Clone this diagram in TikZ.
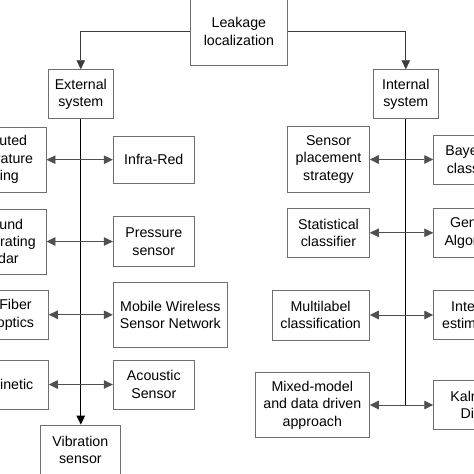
\documentclass[tikz,border=0pt]{standalone}
\usepackage{fontspec}
\setmainfont{Liberation Sans}
\usetikzlibrary{arrows.meta}
\begin{document}
\begin{tikzpicture}[x=1pt,y=-1pt,
  box/.style={draw={rgb,255:red,110;green,110;blue,110},line width=0.9pt,rectangle,inner sep=0pt,align=center,
    font=\fontsize{14.2}{17.4}\selectfont},
  tip/.style={{Triangle[length=9pt,width=8.5pt]}},
  dbl/.style={draw={rgb,255:red,80;green,80;blue,80},line width=0.9pt,{Triangle[length=9pt,width=8.5pt]}-{Triangle[length=9pt,width=8.5pt]}},
  spine/.style={draw=black,line width=1.1pt},
  down/.style={draw={rgb,255:red,60;green,60;blue,60},line width=0.9pt,-{Triangle[length=9pt,width=8.5pt]}}]
\useasboundingbox (0,0) rectangle (474,474);
\clip (0,0) rectangle (474,474);
\fill[white] (0,0) rectangle (474,474);
% top
\node[box,minimum width=97.7pt,minimum height=67pt] (leak) at (238.9,31.5) {Leakage\\localization};
\node[box,minimum width=65pt,minimum height=49pt] (ext) at (80.8,94.2) {External\\system};
\node[box,minimum width=65pt,minimum height=49pt] (int) at (405.8,94.2) {Internal\\system};
% external side
\node[box,minimum width=105.6pt,minimum height=64.7pt] (dts) at (-6.8,159.7) {Distributed\\Temperature\\Sensing};
\node[box,minimum width=81pt,minimum height=47pt] (ir) at (153.8,159.7) {Infra-Red};
\node[box,minimum width=93.2pt,minimum height=65pt] (gpr) at (-0.6,241.5) {Ground\\Penetrating\\Radar};
\node[box,minimum width=81pt,minimum height=49.3pt] (pres) at (153.8,241.5) {Pressure\\sensor};
\node[box,minimum width=65.6pt,minimum height=49.3pt] (fib) at (15.5,314.8) {Fiber\\optics};
\node[box,minimum width=114pt,minimum height=64.6pt] (mwsn) at (170.3,314.8) {Mobile Wireless\\Sensor Network};
\node[box,minimum width=72.6pt,minimum height=49pt] (kin) at (12,384.5) {Kinetic};
\node[box,minimum width=81pt,minimum height=49pt] (aco) at (153.8,384.5) {Acoustic\\Sensor};
\node[box,minimum width=80.7pt,minimum height=49.4pt] (vib) at (80.35,449.7) {Vibration\\sensor};
% internal side
\node[box,minimum width=81.6pt,minimum height=65.6pt] (sps) at (328.5,159.5) {Sensor\\placement\\strategy};
\node[box,minimum width=81.6pt,minimum height=49pt] (bay) at (474.5,159.5) {Bayesian\\classifier};
\node[box,minimum width=81.6pt,minimum height=49pt] (stat) at (328.5,232.8) {Statistical\\classifier};
\node[box,minimum width=81.6pt,minimum height=49pt] (gen) at (474.5,232.8) {Genetic\\Algorithm};
\node[box,minimum width=97.3pt,minimum height=50pt] (mlc) at (320.65,315) {Multilabel\\classification};
\node[box,minimum width=81.6pt,minimum height=49pt] (inter) at (474.5,315) {Interval\\estimation};
\node[box,minimum width=114pt,minimum height=65.4pt] (mix) at (312.3,405) {Mixed-model\\and data driven\\approach};
\node[box,minimum width=81.6pt,minimum height=49pt] (kal) at (474.5,405) {Kalman\\\makebox[27.6pt][l]{Di}};
% connectors from top
\draw[down] (leak.west) -| (ext.north);
\draw[down] (leak.east) -| (int.north);
% spines
\draw[spine,-{Triangle[length=9pt,width=8.5pt]}] (ext.south) -- (ext.south |- vib.north);
\coordinate (iend) at (int.south |- mix.east);
\draw[spine] (int.south) -- (iend);
% branches external
\draw[dbl] (dts.east) -- (dts.east -| ir.west);
\draw[dbl] (gpr.east) -- (gpr.east -| pres.west);
\draw[dbl] (fib.east) -- (fib.east -| mwsn.west);
\draw[dbl] (kin.east) -- (kin.east -| aco.west);
% branches internal
\draw[dbl] (sps.east) -- (sps.east -| bay.west);
\draw[dbl] (stat.east) -- (stat.east -| gen.west);
\draw[dbl] (mlc.east) -- (mlc.east -| inter.west);
\draw[dbl] (mix.east) -- (mix.east -| kal.west);
\end{tikzpicture}
\end{document}
